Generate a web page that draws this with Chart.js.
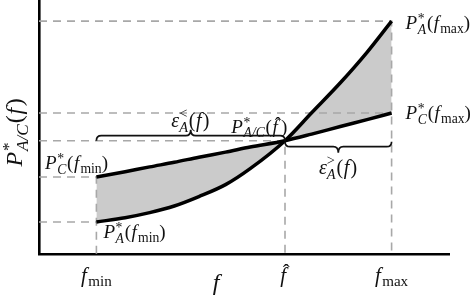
<!DOCTYPE html>
<html>
<head>
<meta charset="utf-8">
<script src="https://cdn.jsdelivr.net/npm/chart.js@4.4.1/dist/chart.umd.min.js"></script>
<style>html,body{margin:0;padding:0;background:#fff}canvas{display:block}</style>
</head>
<body>
<canvas id="c" width="474" height="297"></canvas>
<script>
// sampled frequencies and the two price curves
const fValues  = [1.4, 2.1, 2.7, 3.3, 3.9, 4.55, 5.15, 6.0, 6.65, 7.35, 8.0, 8.6];
const paValues = [1.26, 1.43, 1.63, 1.89, 2.26, 2.73, 3.36, 4.46, 5.56, 6.74, 7.94, 9.17];
const pcValues = [3.03, 3.24, 3.43, 3.61, 3.81, 4.01, 4.21, 4.46, 4.72, 5.02, 5.29, 5.55];
const axisRange = [0, 10];

const hatIdx = 7;
const fMin = fValues[0], fHat = fValues[hatIdx], fMax = fValues[fValues.length - 1];
const paMin = paValues[0], paMax = paValues[paValues.length - 1];
const pcMin = pcValues[0], pcMax = pcValues[pcValues.length - 1];
const pHat = paValues[hatIdx];

const SERIF = '"Liberation Serif", "DejaVu Serif", serif';
const GUIDE = '#a8a8a8';
const SHADE = '#cbcbcb';

const pts = (xs, ys) => xs.map((x, i) => ({ x, y: ys[i] }));

// dashed guide lines from the curve ends to the axes
const guides = [
  [[0, paMax], [fMax, paMax], [fMax, 0]],
  [[0, pcMax], [fMax, pcMax]],
  [[0, pHat], [fHat, pHat], [fHat, 0]],
  [[0, pcMin], [fMin, pcMin], [fMin, 0]],
  [[0, paMin], [fMin, paMin]],
];

// tiny rich-text helper: italic, sub/superscripts, stacked scripts
function drawRich(ctx, parts, x, y, size, align) {
  const lay = [];
  let cx = 0, start = 0, end = 0;
  parts.forEach(p => {
    const small = p.sub || p.sup;
    const s = small ? size * 0.72 : size;
    const font = (p.it ? 'italic ' : '') + s.toFixed(1) + 'px ' + SERIF;
    ctx.font = font;
    const w = ctx.measureText(p.t).width;
    const x0 = (p.stack ? start : cx) + (p.dx || 0) * size;
    const dy = p.dy != null ? p.dy * size : p.sup ? -size * 0.4 : p.sub ? size * 0.24 : 0;
    lay.push({ t: p.t, font, x0, dy });
    if (p.stack) cx = Math.max(end, x0 + w);
    else { start = x0; cx = x0 + w; }
    end = cx + (p.gap || 0) * size;
    cx = end;
  });
  const off = align === 'center' ? -cx / 2 : align === 'right' ? -cx : 0;
  ctx.fillStyle = '#111';
  ctx.textBaseline = 'alphabetic';
  ctx.textAlign = 'left';
  lay.forEach(l => {
    ctx.font = l.font;
    ctx.fillText(l.t, x + off + l.x0, y + l.dy);
  });
}

const I = t => ({ t, it: true });
const R = t => ({ t, gap: 0.03 });
const P = (who) => [{ t: 'P', it: true, gap: 0.03 }, { t: '*', sup: true, dy: -0.32 }, { t: who, it: true, sub: true, stack: true, gap: 0.04 }];
const fSub = s => [{ t: 'f', it: true, gap: 0.06 }, { t: s, sub: true, dy: 0.2 }];
const fHatParts = [{ t: 'f', it: true, gap: 0.05 }, { t: '\u02C6', stack: true, dx: 0.12, dy: -0.12 }];
const eps = sym => [I('\u03B5'), { t: sym, sup: true, dy: -0.45 }, { t: 'A', it: true, sub: true, stack: true, gap: 0.04 }, R('('), { t: 'f', it: true, gap: 0.06 }, R(')')];

function brace(ctx, x1, x2, y0, d) {
  // d = -1 : body above the tips, cusp pointing up
  const yb = y0 + d * 5, yc = y0 + d * 11, xm = (x1 + x2) / 2, r = 5;
  ctx.beginPath();
  ctx.moveTo(x1, y0);
  ctx.quadraticCurveTo(x1, yb, x1 + r, yb);
  ctx.lineTo(xm - r, yb);
  ctx.quadraticCurveTo(xm, yb, xm, yc);
  ctx.quadraticCurveTo(xm, yb, xm + r, yb);
  ctx.lineTo(x2 - r, yb);
  ctx.quadraticCurveTo(x2, yb, x2, y0);
  ctx.lineWidth = 1.7;
  ctx.strokeStyle = '#111';
  ctx.stroke();
}

const annotations = {
  id: 'annotations',
  afterDatasetsDraw(chart) {
    const ctx = chart.ctx;
    const xs = chart.scales.x, ys = chart.scales.y;
    const px = v => xs.getPixelForValue(v), py = v => ys.getPixelForValue(v);
    ctx.save();
    brace(ctx, px(fMin), px(fHat), py(pHat), -1);
    brace(ctx, px(fHat), px(fMax), py(pHat) + 1, 1);

    const S = 19;
    drawRich(ctx, [...P('A'), R('('), ...fSub('max'), R(')')], px(fMax) + 14, py(paMax) + 8, S, 'left');
    drawRich(ctx, [...P('C'), R('('), ...fSub('max'), R(')')], px(fMax) + 14, py(pcMax) + 6, S, 'left');
    drawRich(ctx, [...P('C'), R('('), ...fSub('min'), R(')')], px(0) + 6, py(pcMin) - 8, S, 'left');
    drawRich(ctx, [...P('A'), R('('), ...fSub('min'), R(')')], px(fMin) + 7, py(paMin) + 16, S, 'left');
    drawRich(ctx, [...P('A/C'), R('('), ...fHatParts, R(')')], px(fHat) + 3, py(pHat) - 8, S, 'right');
    drawRich(ctx, eps('<'), (px(fMin) + px(fHat)) / 2, py(pHat) - 14, 20, 'center');
    drawRich(ctx, eps('>'), (px(fHat) + px(fMax)) / 2, py(pHat) + 33, 20, 'center');

    // axis tick labels and titles
    const tickY = ys.bottom + 28;
    drawRich(ctx, fSub('min'), px(fMin), tickY, 21, 'center');
    drawRich(ctx, fHatParts, px(fHat), tickY, 21, 'center');
    drawRich(ctx, fSub('max'), px(fMax), tickY, 21, 'center');
    drawRich(ctx, [I('f')], 216, ys.bottom + 36, 24, 'center');

    ctx.translate(22, 132);
    ctx.rotate(-Math.PI / 2);
    drawRich(ctx, [...P('A/C'), R('('), { t: 'f', it: true, gap: 0.06 }, R(')')], 0, 0, 24, 'center');
    ctx.restore();
  }
};

const datasets = [
  {
    data: pts(fValues, paValues),
    borderColor: '#000', borderWidth: 3.5, pointRadius: 0,
    cubicInterpolationMode: 'monotone',
    fill: { target: 1, above: SHADE, below: SHADE },
  },
  {
    data: pts(fValues, pcValues),
    borderColor: '#000', borderWidth: 3.5, pointRadius: 0,
    cubicInterpolationMode: 'monotone', fill: false,
  },
  ...guides.map(g => ({
    data: g.map(([x, y]) => ({ x, y })),
    borderColor: GUIDE, borderWidth: 1.6, borderDash: [8, 6],
    pointRadius: 0, fill: false, tension: 0,
  })),
];

new Chart(document.getElementById('c'), {
  type: 'line',
  data: { datasets },
  options: {
    responsive: false,
    animation: false,
    events: [],
    clip: false,
    layout: { padding: { left: 39, right: 25, top: 0, bottom: 43 } },
    plugins: {
      legend: { display: false },
      tooltip: { enabled: false },
      filler: { drawTime: 'beforeDatasetsDraw' },
    },
    scales: {
      x: {
        type: 'linear', min: axisRange[0], max: axisRange[1],
        grid: { display: false, drawTicks: false },
        ticks: { display: false },
        border: { display: true, color: '#000', width: 2.6 },
      },
      y: {
        type: 'linear', min: axisRange[0], max: axisRange[1],
        grid: { display: false, drawTicks: false },
        ticks: { display: false },
        border: { display: true, color: '#000', width: 2.6 },
      },
    },
  },
  plugins: [annotations],
});
</script>
</body>
</html>
